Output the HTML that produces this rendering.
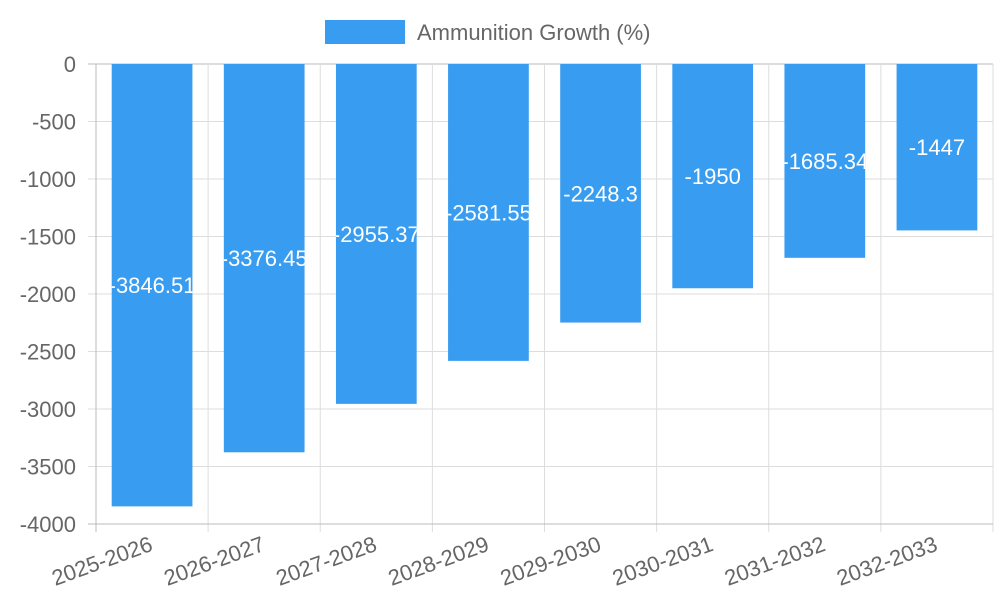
<!DOCTYPE html>
<html><head><meta charset="utf-8"><style>
html,body{margin:0;padding:0;background:#fff;}
svg{display:block;font-family:"Liberation Sans",sans-serif;}
</style></head><body>
<svg id="chart" width="1000" height="600">
<g id="legend">
<rect x="325" y="20" width="80" height="24" fill="#389cf0"/>
<text x="417" y="40" font-size="22" fill="#666">Ammunition Growth (%)</text>
</g>
<defs id="defs"></defs>
<g id="grid"></g><g id="bars"></g><g id="axes"></g>
</svg>
<script>
const categories=["2025-2026","2026-2027","2027-2028","2028-2029","2029-2030","2030-2031","2031-2032","2032-2033"];
const values=[-3846.51,-3376.45,-2955.37,-2581.55,-2248.3,-1950,-1685.34,-1447];
const yTicks=[0,-500,-1000,-1500,-2000,-2500,-3000,-3500,-4000];
const NS="http://www.w3.org/2000/svg";
const L=96,R=993,T=64,B=524,yMin=-4000,yMax=0;
const y=v=>T+(yMax-v)/(yMax-yMin)*(B-T);
const cw=(R-L)/categories.length;
const x=i=>L+cw*i;
function mk(tag,attrs,parent){const e=document.createElementNS(NS,tag);for(const k in attrs)e.setAttribute(k,attrs[k]);parent.appendChild(e);return e;}
const grid=document.getElementById('grid'),bars=document.getElementById('bars'),axes=document.getElementById('axes'),defs=document.getElementById('defs');
yTicks.forEach(t=>{
  const ln=mk('line',{x1:88,x2:R,y1:y(t),y2:y(t),stroke:t===0?'#bbb':'#ddd','stroke-width':1},grid);
  
  
  const tx=mk('text',{x:76,y:y(t)+8,'text-anchor':'end','font-size':22,fill:'#666'},axes);
  tx.textContent=t;
  
  
});
for(let i=0;i<=categories.length;i++){
  const ln=mk('line',{x1:x(i),x2:x(i),y1:T,y2:B+8,stroke:i===0?'#bbb':'#ddd','stroke-width':1},grid);
  
  
}
const bl=mk('line',{x1:L-8,x2:R,y1:B,y2:B,stroke:'#bbb'},axes);


categories.forEach((c,i)=>{
  const bw=cw*0.72,cx=x(i)+cw/2,bx=cx-bw/2,y0=y(0),y1=y(values[i]);
  const r=mk('rect',{x:bx,y:y0,width:bw,height:y1-y0,fill:'#389cf0'},bars);
  
  
  const cp=mk('clipPath',{id:'cp'+i},defs);
  mk('rect',{x:bx,y:y0,width:bw,height:y1-y0},cp);
  const lb=mk('text',{x:cx,y:(y0+y1)/2+8,'text-anchor':'middle','font-size':22,fill:'#fff','clip-path':'url(#cp'+i+')'},bars);
  lb.textContent=values[i];
  
  
  const xl=mk('text',{x:0,y:0,'text-anchor':'end','font-size':22,fill:'#666',transform:'translate('+(cx+2)+','+(B+26)+') rotate(-20)'},axes);
  xl.textContent=c;
  
  
});
</script>
</body></html>
